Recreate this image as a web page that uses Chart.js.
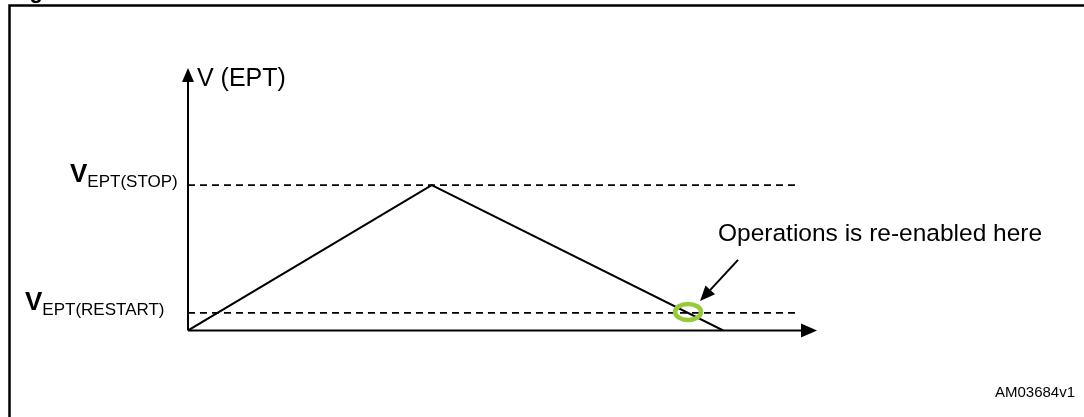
<!DOCTYPE html>
<html>
<head>
<meta charset="utf-8">
<script src="https://cdn.jsdelivr.net/npm/chart.js@4/dist/chart.umd.min.js"></script>
<style>
    html, body { margin: 0; padding: 0; background: #fff; }
    #wrap { position: relative; width: 1084px; height: 417px; }
</style>
</head>
<body>
<div id="wrap"><canvas id="chart"></canvas></div>
<script>
// time / voltage values (arbitrary units)
const rampTimes = [0, 4.65, 10.21];
const rampVolts = [0, 5.54, 0];
const thresholdNames = ['STOP', 'RESTART'];
const thresholdVolts = [5.54, 0.67];
const thresholdEnd = 11.58;
const axisMax = { x: 12, y: 10 };
const yAxisTitle = 'V (EPT)';
const calloutText = 'Operations is re-enabled here';
const restartPoint = { x: 9.54, y: 0.67 };
const figureId = 'AM03684v1';

const FONT = '"Liberation Sans", Arial, Helvetica, sans-serif';

// ramp up / down
const rampData = rampTimes.map((t, i) => ({ x: t, y: rampVolts[i] }));

// dashed threshold lines
const thresholdSets = thresholdNames.map((name, i) => ({
    label: name,
    data: [{ x: 0, y: thresholdVolts[i] }, { x: thresholdEnd, y: thresholdVolts[i] }],
    borderColor: '#000',
    borderWidth: 1.6,
    borderDash: [7, 5],
    pointRadius: 0,
    fill: false
}));

function arrowHead(ctx, tx, ty, ang, len, half) {
    ctx.beginPath();
    ctx.moveTo(tx, ty);
    ctx.lineTo(tx - len * Math.cos(ang) + half * Math.sin(ang), ty - len * Math.sin(ang) - half * Math.cos(ang));
    ctx.lineTo(tx - len * Math.cos(ang) - half * Math.sin(ang), ty - len * Math.sin(ang) + half * Math.cos(ang));
    ctx.closePath();
    ctx.fill();
}

// frame, axes with arrows, labels and the green marker
const diagramPlugin = {
    id: 'diagram',
    afterDraw(chart) {
        const ctx = chart.ctx;
        const xs = chart.scales.x, ys = chart.scales.y;
        const x0 = xs.getPixelForValue(0), y0 = ys.getPixelForValue(0);
        const xEnd = xs.getPixelForValue(axisMax.x), yTop = ys.getPixelForValue(axisMax.y);
        ctx.save();

        // figure frame (cut by the page edges)
        ctx.strokeStyle = '#000';
        ctx.lineWidth = 2.5;
        ctx.strokeRect(9.5, 5.5, 1200, 600);
        ctx.fillStyle = '#000';
        ctx.font = 'bold 22px ' + FONT;
        ctx.textBaseline = 'alphabetic';
        ctx.fillText('Figure', 10, -2.5);

        // axes
        ctx.lineWidth = 2;
        ctx.beginPath();
        ctx.moveTo(x0, y0);
        ctx.lineTo(x0, yTop + 12);
        ctx.moveTo(x0, y0);
        ctx.lineTo(xEnd - 14, y0);
        ctx.stroke();
        arrowHead(ctx, x0, yTop, -Math.PI / 2, 14, 6);
        arrowHead(ctx, xEnd, y0, 0, 16, 7);

        // axis title
        ctx.font = '25px ' + FONT;
        ctx.textAlign = 'left';
        ctx.fillText(yAxisTitle, x0 + 9, yTop + 18);

        // threshold labels: bold V with subscript
        const labelLeft = [70, 25];
        thresholdNames.forEach((name, i) => {
            const py = ys.getPixelForValue(thresholdVolts[i]);
            ctx.font = 'bold 26px ' + FONT;
            ctx.fillText('V', labelLeft[i], py - 3);
            const w = ctx.measureText('V').width;
            ctx.font = '17px ' + FONT;
            ctx.fillText('EPT(' + name + ')', labelLeft[i] + w, py + 2);
        });

        // green marker where operation restarts
        const mx = xs.getPixelForValue(restartPoint.x), my = ys.getPixelForValue(restartPoint.y);
        ctx.strokeStyle = '#99c93a';
        ctx.lineWidth = 4.5;
        ctx.beginPath();
        ctx.ellipse(mx, my - 1, 13, 8, 0, 0, Math.PI * 2);
        ctx.stroke();

        // callout arrow + text
        ctx.strokeStyle = '#000';
        ctx.lineWidth = 2;
        const ax = mx + 50, ay = my - 53, tx = mx + 12, ty = my - 12;
        const ang = Math.atan2(ty - ay, tx - ax);
        ctx.beginPath();
        ctx.moveTo(ax, ay);
        ctx.lineTo(tx - 12 * Math.cos(ang), ty - 12 * Math.sin(ang));
        ctx.stroke();
        arrowHead(ctx, tx, ty, ang, 15, 6.5);
        ctx.font = '24.5px ' + FONT;
        ctx.fillText(calloutText, 718, 241);

        // figure id
        ctx.font = '15px ' + FONT;
        ctx.textAlign = 'right';
        ctx.fillText(figureId, 1075, 397);
        ctx.restore();
    }
};

new Chart(document.getElementById('chart'), {
    type: 'line',
    data: {
        datasets: [
            {
                label: 'V(EPT)',
                data: rampData,
                borderColor: '#000',
                borderWidth: 2,
                pointRadius: 0,
                tension: 0,
                fill: false
            },
            ...thresholdSets
        ]
    },
    options: {
        responsive: true,
        maintainAspectRatio: false,
        animation: false,
        layout: { padding: { left: 188, right: 267, top: 68, bottom: 86.5 } },
        plugins: { legend: { display: false }, tooltip: { enabled: false } },
        scales: {
            x: { type: 'linear', min: 0, max: axisMax.x, display: false },
            y: { type: 'linear', min: 0, max: axisMax.y, display: false }
        }
    },
    plugins: [diagramPlugin]
});
</script>
</body>
</html>
